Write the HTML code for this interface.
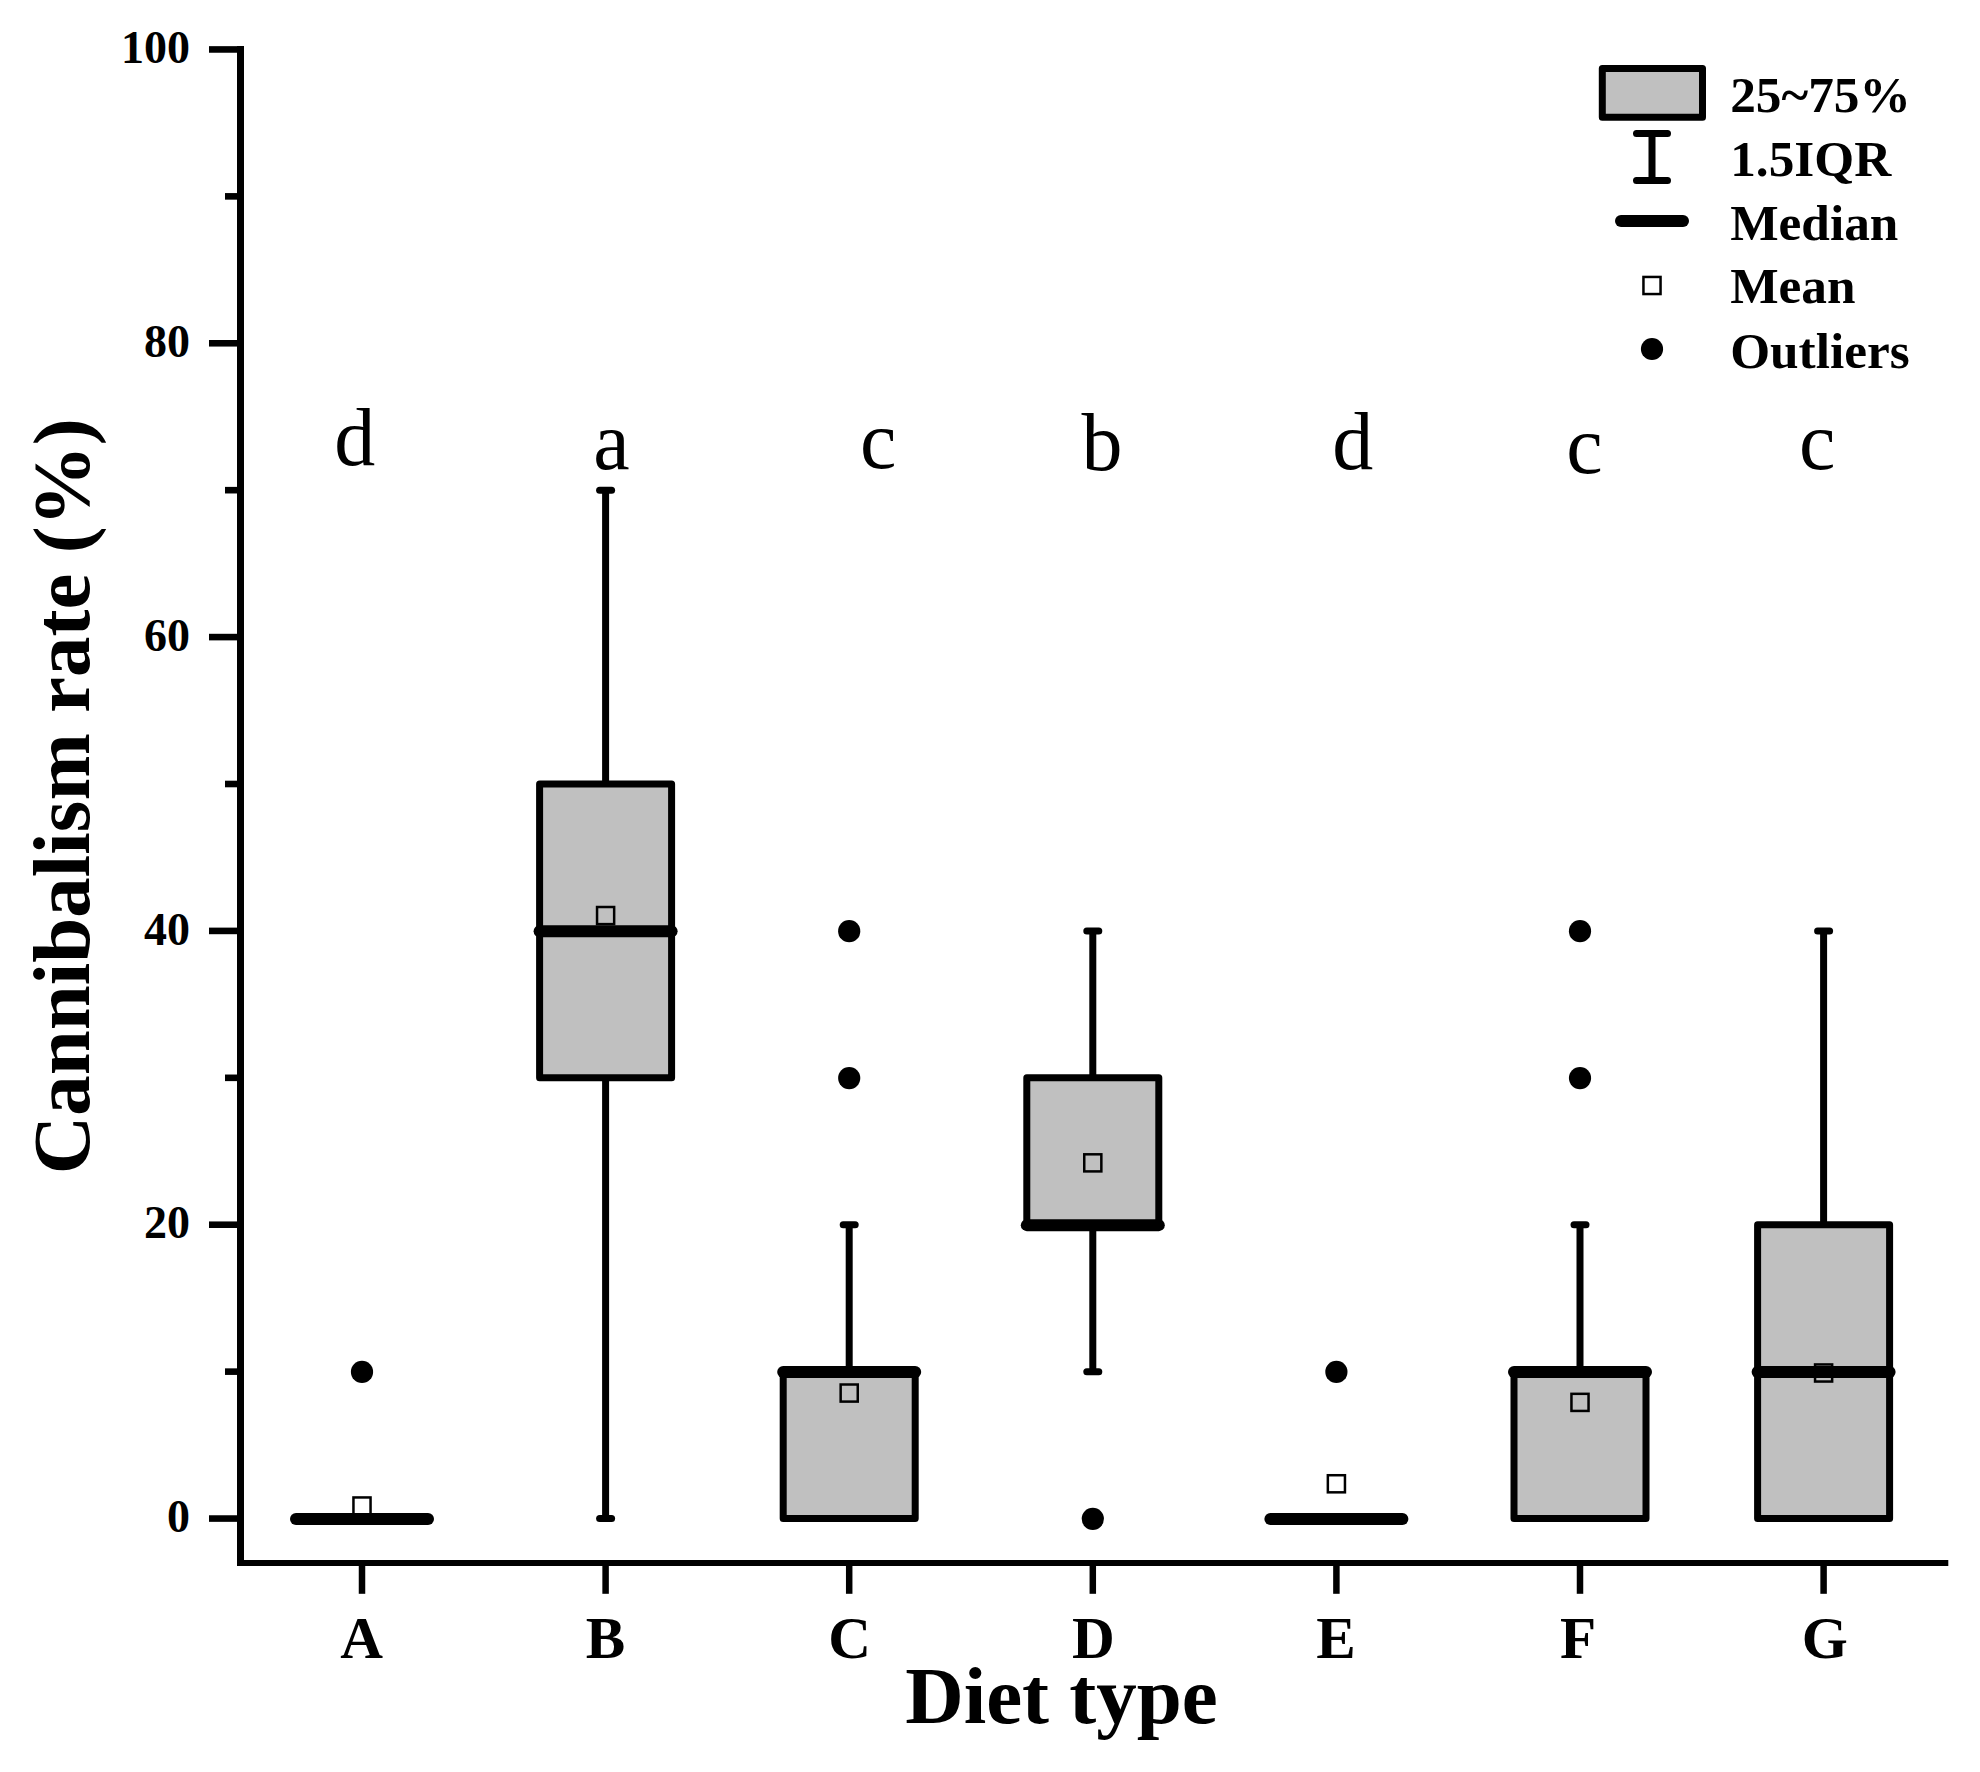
<!DOCTYPE html>
<html lang="en"><head><meta charset="utf-8"><title>Cannibalism rate by diet type</title>
<style>html,body{margin:0;padding:0;background:#fff}body{width:1980px;height:1772px;overflow:hidden}</style></head>
<body>
<svg width="1980" height="1772" viewBox="0 0 1980 1772" style="display:block">
<rect width="1980" height="1772" fill="#fff"/>
<g stroke="#000" stroke-width="7" fill="none" stroke-linecap="butt">
<path d="M240.5 46 V1566"/>
<path d="M237 1563.0 H1948.3" stroke-width="6"/>
<path d="M209 1518.55 H240.5" stroke-width="6.6"/>
<path d="M225 1371.64 H240.5" stroke-width="6.6"/>
<path d="M209 1224.73 H240.5" stroke-width="6.6"/>
<path d="M225 1077.82 H240.5" stroke-width="6.6"/>
<path d="M209 930.91 H240.5" stroke-width="6.6"/>
<path d="M225 784.00 H240.5" stroke-width="6.6"/>
<path d="M209 637.09 H240.5" stroke-width="6.6"/>
<path d="M225 490.18 H240.5" stroke-width="6.6"/>
<path d="M209 343.27 H240.5" stroke-width="6.6"/>
<path d="M225 196.36 H240.5" stroke-width="6.6"/>
<path d="M209 49.45 H240.5" stroke-width="6.6"/>
<path d="M362.00 1563.0 V1593.8" stroke-width="6.5"/>
<path d="M605.60 1563.0 V1593.8" stroke-width="6.5"/>
<path d="M849.20 1563.0 V1593.8" stroke-width="6.5"/>
<path d="M1092.80 1563.0 V1593.8" stroke-width="6.5"/>
<path d="M1336.40 1563.0 V1593.8" stroke-width="6.5"/>
<path d="M1580.00 1563.0 V1593.8" stroke-width="6.5"/>
<path d="M1823.60 1563.0 V1593.8" stroke-width="6.5"/>
</g>
<g font-family="'Liberation Serif', serif" font-weight="bold" font-size="46" text-anchor="end" fill="#000">
<text x="189.9" y="1532.15">0</text>
<text x="189.9" y="1238.33">20</text>
<text x="189.9" y="944.51">40</text>
<text x="189.9" y="650.69">60</text>
<text x="189.9" y="356.87">80</text>
<text x="189.9" y="63.05">100</text>
</g>
<g font-family="'Liberation Serif', serif" font-weight="bold" font-size="59.2" text-anchor="middle" fill="#000">
<text x="361.70" y="1658">A</text>
<text x="605.60" y="1658">B</text>
<text x="849.70" y="1658">C</text>
<text x="1093.30" y="1658">D</text>
<text x="1335.90" y="1658">E</text>
<text x="1578.20" y="1658">F</text>
<text x="1824.80" y="1658">G</text>
</g>
<text x="1061.5" y="1722.5" font-family="'Liberation Serif', serif" font-weight="bold" font-size="81" text-anchor="middle">Diet type</text>
<text transform="translate(88.8 796.3) rotate(-90)" font-family="'Liberation Serif', serif" font-weight="bold" font-size="81" text-anchor="middle">Cannibalism rate (%)</text>
<g>
<rect x="353.45" y="1497.45" width="17.1" height="17.1" fill="none" stroke="#000" stroke-width="2.5"/>
<path d="M296.00 1518.95 H428.00" stroke="#000" stroke-width="12" stroke-linecap="round" fill="none"/>
<circle cx="362.00" cy="1371.94" r="11.1" fill="#000"/>
</g>
<g>
<path d="M605.60 784.00 V490.18" stroke="#000" stroke-width="7" fill="none"/>
<path d="M599.60 490.18 H611.60" stroke="#000" stroke-width="7" stroke-linecap="round" fill="none"/>
<path d="M605.60 1077.82 V1518.55" stroke="#000" stroke-width="7" fill="none"/>
<path d="M599.60 1518.55 H611.60" stroke="#000" stroke-width="7" stroke-linecap="round" fill="none"/>
<rect x="539.60" y="784.00" width="132" height="293.82" fill="#c0c0c0" stroke="#000" stroke-width="7" stroke-linejoin="round"/>
<rect x="597.05" y="907.01" width="17.1" height="17.1" fill="none" stroke="#000" stroke-width="2.5"/>
<path d="M539.60 931.31 H671.60" stroke="#000" stroke-width="12" stroke-linecap="round" fill="none"/>
</g>
<g>
<path d="M849.20 1371.64 V1224.73" stroke="#000" stroke-width="7" fill="none"/>
<path d="M843.20 1224.73 H855.20" stroke="#000" stroke-width="7" stroke-linecap="round" fill="none"/>
<rect x="783.20" y="1371.64" width="132" height="146.91" fill="#c0c0c0" stroke="#000" stroke-width="7" stroke-linejoin="round"/>
<rect x="840.65" y="1384.50" width="17.1" height="17.1" fill="none" stroke="#000" stroke-width="2.5"/>
<path d="M783.20 1372.04 H915.20" stroke="#000" stroke-width="12" stroke-linecap="round" fill="none"/>
<circle cx="849.20" cy="1078.12" r="11.1" fill="#000"/>
<circle cx="849.20" cy="931.21" r="11.1" fill="#000"/>
</g>
<g>
<path d="M1092.80 1077.82 V930.91" stroke="#000" stroke-width="7" fill="none"/>
<path d="M1086.80 930.91 H1098.80" stroke="#000" stroke-width="7" stroke-linecap="round" fill="none"/>
<path d="M1092.80 1224.73 V1371.64" stroke="#000" stroke-width="7" fill="none"/>
<path d="M1086.80 1371.64 H1098.80" stroke="#000" stroke-width="7" stroke-linecap="round" fill="none"/>
<rect x="1026.80" y="1077.82" width="132" height="146.91" fill="#c0c0c0" stroke="#000" stroke-width="7" stroke-linejoin="round"/>
<rect x="1084.25" y="1154.31" width="17.1" height="17.1" fill="none" stroke="#000" stroke-width="2.5"/>
<path d="M1026.80 1225.13 H1158.80" stroke="#000" stroke-width="12" stroke-linecap="round" fill="none"/>
<circle cx="1092.80" cy="1518.85" r="11.1" fill="#000"/>
</g>
<g>
<rect x="1327.85" y="1475.23" width="17.1" height="17.1" fill="none" stroke="#000" stroke-width="2.5"/>
<path d="M1270.40 1518.95 H1402.40" stroke="#000" stroke-width="12" stroke-linecap="round" fill="none"/>
<circle cx="1336.40" cy="1371.94" r="11.1" fill="#000"/>
</g>
<g>
<path d="M1580.00 1371.64 V1224.73" stroke="#000" stroke-width="7" fill="none"/>
<path d="M1574.00 1224.73 H1586.00" stroke="#000" stroke-width="7" stroke-linecap="round" fill="none"/>
<rect x="1514.00" y="1371.64" width="132" height="146.91" fill="#c0c0c0" stroke="#000" stroke-width="7" stroke-linejoin="round"/>
<rect x="1571.45" y="1393.83" width="17.1" height="17.1" fill="none" stroke="#000" stroke-width="2.5"/>
<path d="M1514.00 1372.04 H1646.00" stroke="#000" stroke-width="12" stroke-linecap="round" fill="none"/>
<circle cx="1580.00" cy="1078.12" r="11.1" fill="#000"/>
<circle cx="1580.00" cy="931.21" r="11.1" fill="#000"/>
</g>
<g>
<path d="M1823.60 1224.73 V930.91" stroke="#000" stroke-width="7" fill="none"/>
<path d="M1817.60 930.91 H1829.60" stroke="#000" stroke-width="7" stroke-linecap="round" fill="none"/>
<rect x="1757.60" y="1224.73" width="132" height="293.82" fill="#c0c0c0" stroke="#000" stroke-width="7" stroke-linejoin="round"/>
<rect x="1815.05" y="1364.44" width="17.1" height="17.1" fill="none" stroke="#000" stroke-width="2.5"/>
<path d="M1757.60 1372.04 H1889.60" stroke="#000" stroke-width="12" stroke-linecap="round" fill="none"/>
</g>
<g font-family="'Liberation Serif', serif" font-size="82" text-anchor="middle" fill="#000">
<text x="354.8" y="464.7">d</text>
<text x="611.5" y="469.0">a</text>
<text x="878.3" y="467.6">c</text>
<text x="1102" y="470">b</text>
<text x="1352.7" y="469.1">d</text>
<text x="1584.4" y="473">c</text>
<text x="1817.1" y="469.1">c</text>
</g>
<g>
<rect x="1602.3" y="68.4" width="100.2" height="48.9" fill="#c0c0c0" stroke="#000" stroke-width="7" stroke-linejoin="round"/>
<path d="M1652 133.6 V180.6 M1636.5 133.6 H1667.5 M1636.5 180.6 H1667.5" stroke="#000" stroke-width="7" stroke-linecap="round" fill="none"/>
<path d="M1621 221 H1683" stroke="#000" stroke-width="12" stroke-linecap="round" fill="none"/>
<rect x="1643.45" y="276.95" width="17.1" height="17.1" fill="none" stroke="#000" stroke-width="2.5"/>
<circle cx="1652" cy="349" r="11.1" fill="#000"/>
<g font-family="'Liberation Serif', serif" font-weight="bold" font-size="51.3" fill="#000">
<text x="1730.2" y="111.5">25~75%</text>
<text x="1730.2" y="175.5">1.5IQR</text>
<text x="1730.2" y="239.8">Median</text>
<text x="1730.2" y="303.3">Mean</text>
<text x="1730.2" y="368.2">Outliers</text>
</g></g>
</svg>
</body></html>
